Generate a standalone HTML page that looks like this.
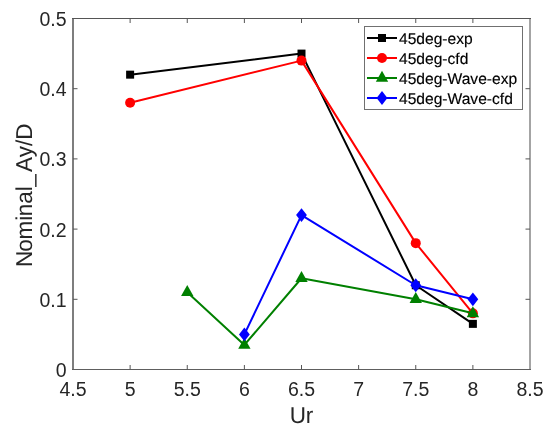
<!DOCTYPE html>
<html><head><meta charset="utf-8"><style>
html,body{margin:0;padding:0;background:#fff;}
svg{display:block;}
.t{font-family:"Liberation Sans",Arial,sans-serif;font-size:19.5px;fill:#262626;}
.l{text-rendering:geometricPrecision;font-family:"Liberation Sans",Arial,sans-serif;font-size:22.5px;fill:#262626;}
.g{text-rendering:geometricPrecision;font-family:"Liberation Sans",Arial,sans-serif;font-size:15.6px;fill:#000;stroke:#000;stroke-width:0.15px;}
</style></head><body>
<svg width="550" height="432" viewBox="0 0 550 432">
<rect width="550" height="432" fill="#fff"/>
<rect x="72" y="18" width="2" height="352" fill="#7e7e7e"/>
<rect x="529" y="18" width="2" height="352" fill="#a4a4a4"/>
<rect x="72" y="18" width="459" height="1" fill="#555555"/>
<rect x="72" y="369" width="459" height="1" fill="#5e5e5e"/>
<line x1="130.12" y1="369.5" x2="130.12" y2="365.0" stroke="#555555" stroke-width="1"/>
<line x1="130.12" y1="18.5" x2="130.12" y2="23.0" stroke="#555555" stroke-width="1"/>
<line x1="187.25" y1="369.5" x2="187.25" y2="365.0" stroke="#555555" stroke-width="1"/>
<line x1="187.25" y1="18.5" x2="187.25" y2="23.0" stroke="#555555" stroke-width="1"/>
<line x1="244.38" y1="369.5" x2="244.38" y2="365.0" stroke="#555555" stroke-width="1"/>
<line x1="244.38" y1="18.5" x2="244.38" y2="23.0" stroke="#555555" stroke-width="1"/>
<line x1="301.50" y1="369.5" x2="301.50" y2="365.0" stroke="#555555" stroke-width="1"/>
<line x1="301.50" y1="18.5" x2="301.50" y2="23.0" stroke="#555555" stroke-width="1"/>
<line x1="358.62" y1="369.5" x2="358.62" y2="365.0" stroke="#555555" stroke-width="1"/>
<line x1="358.62" y1="18.5" x2="358.62" y2="23.0" stroke="#555555" stroke-width="1"/>
<line x1="415.75" y1="369.5" x2="415.75" y2="365.0" stroke="#555555" stroke-width="1"/>
<line x1="415.75" y1="18.5" x2="415.75" y2="23.0" stroke="#555555" stroke-width="1"/>
<line x1="472.88" y1="369.5" x2="472.88" y2="365.0" stroke="#555555" stroke-width="1"/>
<line x1="472.88" y1="18.5" x2="472.88" y2="23.0" stroke="#555555" stroke-width="1"/>
<line x1="73.0" y1="299.30" x2="77.5" y2="299.30" stroke="#555555" stroke-width="1"/>
<line x1="530.0" y1="299.30" x2="525.5" y2="299.30" stroke="#555555" stroke-width="1"/>
<line x1="73.0" y1="229.10" x2="77.5" y2="229.10" stroke="#555555" stroke-width="1"/>
<line x1="530.0" y1="229.10" x2="525.5" y2="229.10" stroke="#555555" stroke-width="1"/>
<line x1="73.0" y1="158.90" x2="77.5" y2="158.90" stroke="#555555" stroke-width="1"/>
<line x1="530.0" y1="158.90" x2="525.5" y2="158.90" stroke="#555555" stroke-width="1"/>
<line x1="73.0" y1="88.70" x2="77.5" y2="88.70" stroke="#555555" stroke-width="1"/>
<line x1="530.0" y1="88.70" x2="525.5" y2="88.70" stroke="#555555" stroke-width="1"/>
<text x="73.00" y="395.6" text-anchor="middle" class="t">4.5</text>
<text x="130.12" y="395.6" text-anchor="middle" class="t">5</text>
<text x="187.25" y="395.6" text-anchor="middle" class="t">5.5</text>
<text x="244.38" y="395.6" text-anchor="middle" class="t">6</text>
<text x="301.50" y="395.6" text-anchor="middle" class="t">6.5</text>
<text x="358.62" y="395.6" text-anchor="middle" class="t">7</text>
<text x="415.75" y="395.6" text-anchor="middle" class="t">7.5</text>
<text x="472.88" y="395.6" text-anchor="middle" class="t">8</text>
<text x="530.00" y="395.6" text-anchor="middle" class="t">8.5</text>
<text x="66.5" y="376.90" text-anchor="end" class="t">0</text>
<text x="66.5" y="306.70" text-anchor="end" class="t">0.1</text>
<text x="66.5" y="236.50" text-anchor="end" class="t">0.2</text>
<text x="66.5" y="166.30" text-anchor="end" class="t">0.3</text>
<text x="66.5" y="96.10" text-anchor="end" class="t">0.4</text>
<text x="66.5" y="25.90" text-anchor="end" class="t">0.5</text>
<text transform="translate(301.50,423.1) scale(1,1.02)" x="0" y="0" text-anchor="middle" class="l">Ur</text>
<text transform="translate(31.6,195.25) rotate(-90) scale(1,1.02)" x="0" y="0" dx="0 -1.1 -0.3 0.2 -0.5 -0.1 -0.1 -0.4 2.3 0 0 0" text-anchor="middle" class="l">Nominal_Ay/D</text>
<polyline points="130.12,74.66 301.50,53.60 415.75,285.26 472.88,323.87" fill="none" stroke="#000000" stroke-width="2.0" stroke-linejoin="round"/>
<rect x="126.12" y="70.66" width="8.00" height="8.00" fill="#000000"/>
<rect x="297.50" y="49.60" width="8.00" height="8.00" fill="#000000"/>
<rect x="411.75" y="281.26" width="8.00" height="8.00" fill="#000000"/>
<rect x="468.88" y="319.87" width="8.00" height="8.00" fill="#000000"/>
<polyline points="130.12,102.74 301.50,60.62 415.75,243.14 472.88,313.34" fill="none" stroke="#ff0000" stroke-width="2.0" stroke-linejoin="round"/>
<circle cx="130.12" cy="102.74" r="5" fill="#ff0000"/>
<circle cx="301.50" cy="60.62" r="5" fill="#ff0000"/>
<circle cx="415.75" cy="243.14" r="5" fill="#ff0000"/>
<circle cx="472.88" cy="313.34" r="5" fill="#ff0000"/>
<polyline points="187.25,292.28 244.38,344.93 301.50,278.24 415.75,299.30 472.88,313.34" fill="none" stroke="#008000" stroke-width="2.0" stroke-linejoin="round"/>
<polygon points="187.25,285.08 193.45,296.08 181.05,296.08" fill="#008000"/>
<polygon points="244.38,337.73 250.57,348.73 238.18,348.73" fill="#008000"/>
<polygon points="301.50,271.04 307.70,282.04 295.30,282.04" fill="#008000"/>
<polygon points="415.75,292.10 421.95,303.10 409.55,303.10" fill="#008000"/>
<polygon points="472.88,306.14 479.07,317.14 466.68,317.14" fill="#008000"/>
<polyline points="244.38,334.40 301.50,215.06 415.75,285.26 472.88,299.30" fill="none" stroke="#0000ff" stroke-width="2.0" stroke-linejoin="round"/>
<polygon points="244.38,327.50 249.78,334.40 244.38,341.30 238.97,334.40" fill="#0000ff"/>
<polygon points="301.50,208.16 306.90,215.06 301.50,221.96 296.10,215.06" fill="#0000ff"/>
<polygon points="415.75,278.36 421.15,285.26 415.75,292.16 410.35,285.26" fill="#0000ff"/>
<polygon points="472.88,292.40 478.27,299.30 472.88,306.20 467.48,299.30" fill="#0000ff"/>
<rect x="364.5" y="26.5" width="158.0" height="83.0" fill="#ffffff" stroke="#707070" stroke-width="1"/>
<line x1="367" y1="38.0" x2="397" y2="38.0" stroke="#000000" stroke-width="2.0"/>
<rect x="378.00" y="34.00" width="8.00" height="8.00" fill="#000000"/>
<text x="399" y="44.30" class="g">45deg-exp</text>
<line x1="367" y1="58.0" x2="397" y2="58.0" stroke="#ff0000" stroke-width="2.0"/>
<circle cx="382.00" cy="58.00" r="5" fill="#ff0000"/>
<text x="399" y="64.30" class="g">45deg-cfd</text>
<line x1="367" y1="78.0" x2="397" y2="78.0" stroke="#008000" stroke-width="2.0"/>
<polygon points="382.00,70.80 388.20,81.80 375.80,81.80" fill="#008000"/>
<text x="399" y="84.30" class="g">45deg-Wave-exp</text>
<line x1="367" y1="98.0" x2="397" y2="98.0" stroke="#0000ff" stroke-width="2.0"/>
<polygon points="382.00,91.10 387.40,98.00 382.00,104.90 376.60,98.00" fill="#0000ff"/>
<text x="399" y="104.30" class="g">45deg-Wave-cfd</text>
</svg>
</body></html>
